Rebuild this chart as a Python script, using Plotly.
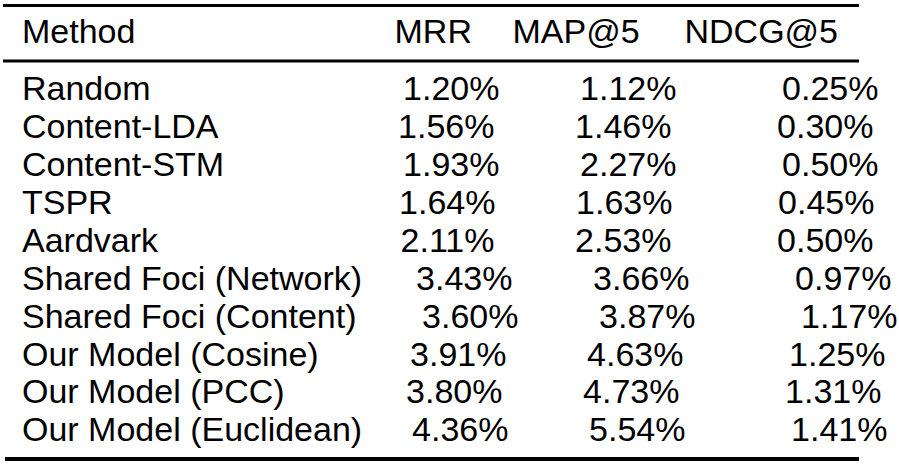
import plotly.graph_objects as go

# table contents
methods = ["Random", "Content-LDA", "Content-STM", "TSPR", "Aardvark",
           "Shared Foci (Network)", "Shared Foci (Content)",
           "Our Model (Cosine)", "Our Model (PCC)", "Our Model (Euclidean)"]
columns = ["Method", "MRR", "MAP@5", "NDCG@5"]
mrr = [1.20, 1.56, 1.93, 1.64, 2.11, 3.43, 3.60, 3.91, 3.80, 4.36]
map5 = [1.12, 1.46, 2.27, 1.63, 2.53, 3.66, 3.87, 4.63, 4.73, 5.54]
ndcg5 = [0.25, 0.30, 0.50, 0.45, 0.50, 0.97, 1.17, 1.25, 1.31, 1.41]

# layout (pixel units, the axes are set to the page size)
W, H = 899, 464
font = dict(family="Liberation Sans, Arial, sans-serif", size=34, color="black")
name_x = 22
header_x = [22, 394.5, 512.5, 684.5]
col_right = [494.5, 671.5, 873.5]
row_shift = [5, 0, 5, 1, 0, 18, 24, 12, 8, 14]   # the source is not cleanly aligned
first_base, row_step = 100, 37.9
header_base = 43
mid = 8.3  # baseline -> text middle

fig = go.Figure()

row_y = [first_base + i * row_step - mid for i in range(len(methods))]

fig.add_trace(go.Scatter(x=header_x, y=[header_base - mid] * 4, text=columns,
                         mode="text", textposition="middle right",
                         textfont=font, hoverinfo="skip"))
fig.add_trace(go.Scatter(x=[name_x] * len(methods), y=row_y, text=methods,
                         mode="text", textposition="middle right",
                         textfont=font, hoverinfo="skip"))
for c, vals in enumerate([mrr, map5, ndcg5]):
    fig.add_trace(go.Scatter(
        x=[col_right[c] + s for s in row_shift], y=row_y,
        text=["%.2f%%" % v for v in vals],
        mode="text", textposition="middle left",
        textfont=font, hoverinfo="skip"))

# booktabs style rules
for y0, w, x0 in [(5.5, 3, 3), (61, 3, 3), (459, 4, 5)]:
    fig.add_shape(type="line", x0=x0, x1=859, y0=y0, y1=y0,
                  line=dict(color="black", width=w))

fig.update_layout(
    width=W, height=H, margin=dict(l=0, r=0, t=0, b=0),
    paper_bgcolor="white", plot_bgcolor="white", showlegend=False,
    xaxis=dict(range=[0, W], visible=False, fixedrange=True),
    yaxis=dict(range=[H, 0], visible=False, fixedrange=True),
)
# drop the browser's default page margin so the figure sits at 0,0
fig.write_html("out.html", config={"displayModeBar": False},
               post_script="document.body.style.margin='0';")
